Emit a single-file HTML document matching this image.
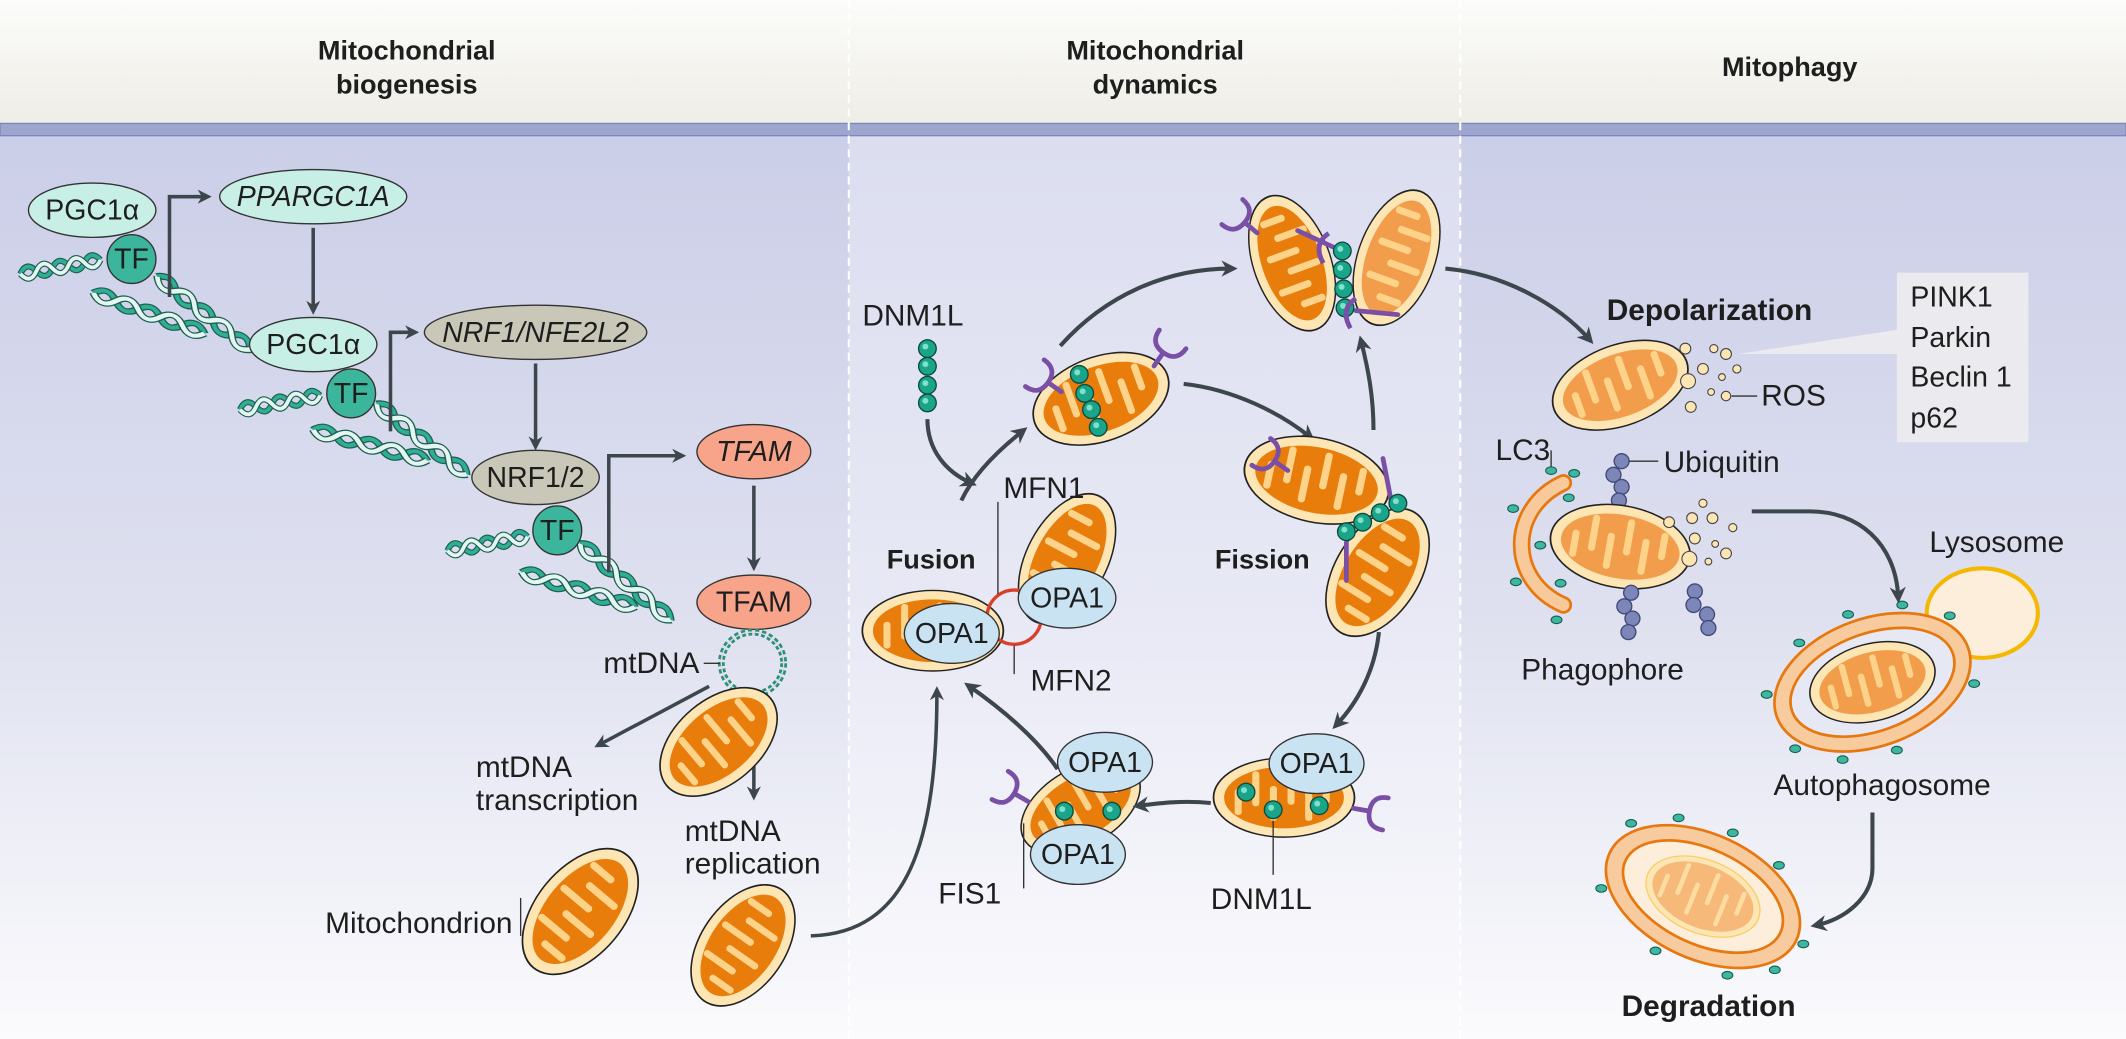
<!DOCTYPE html>
<html><head><meta charset="utf-8"><style>
html,body{margin:0;padding:0;width:2126px;height:1039px;overflow:hidden;background:#fff}
svg{display:block}
text{font-family:"Liberation Sans",sans-serif;fill:#1e1e1e}
</style></head><body>
<svg width="2126" height="1039" viewBox="0 0 1568 766" preserveAspectRatio="none" xmlns="http://www.w3.org/2000/svg">
<defs>
<linearGradient id="hdr" x1="0" y1="0" x2="0" y2="1"><stop offset="0" stop-color="#fcfcfa"/><stop offset="1" stop-color="#eeede6"/></linearGradient>
<linearGradient id="side" x1="0" y1="0" x2="0" y2="1"><stop offset="0" stop-color="#c5c9e5"/><stop offset="0.6" stop-color="#dfe1f0"/><stop offset="1" stop-color="#fbfbfd"/></linearGradient>
<linearGradient id="mid" x1="0" y1="0" x2="0" y2="1"><stop offset="0" stop-color="#d8dbef"/><stop offset="0.6" stop-color="#e8e9f5"/><stop offset="1" stop-color="#fbfbfd"/></linearGradient>
<marker id="ah" viewBox="0 0 10 10" refX="6" refY="5" markerWidth="4" markerHeight="4" orient="auto"><path d="M0,0 L10,5 L0,10 L3,5z" fill="#3d464c"/></marker>
<g id="mito">
<ellipse rx="40" ry="27" fill="#fde6b4" stroke="#222" stroke-width="1"/>
<ellipse rx="34" ry="21" fill="#e97d0c"/>
<path d="M-26,10 v-14 M-16,-16 v20 M-6,14 v-20 M4,-17 v20 M14,14 v-20 M24,-12 v14" stroke="#fdd38a" stroke-width="4" stroke-linecap="round" fill="none"/>
</g>
<g id="mitoL">
<ellipse rx="40" ry="27" fill="#fde6b4" stroke="#222" stroke-width="1"/>
<ellipse rx="34" ry="21" fill="#f29d4c"/>
<path d="M-26,10 v-14 M-16,-16 v20 M-6,14 v-20 M4,-17 v20 M14,14 v-20 M24,-12 v14" stroke="#fdd38a" stroke-width="4" stroke-linecap="round" fill="none"/>
</g>
<g id="bead"><circle r="6.5" fill="#1aa58a" stroke="#0c4a40" stroke-width="1"/><circle cx="-1.5" cy="-1.5" r="2.2" fill="#7fe0cc"/></g>
<g id="ub"><circle r="5.5" fill="#7d86b8" stroke="#404a78" stroke-width="1"/></g>
<g id="lc3"><ellipse rx="4" ry="2.8" fill="#3cb8a0" stroke="#1a5a50" stroke-width="0.8"/></g>
<g id="ypur"><path d="M0,0 v12 M0,0 q-12,0 -12,-12 M0,0 q12,0 12,-12" stroke="#7a4fa6" stroke-width="3.5" fill="none" stroke-linecap="round"/></g>
<g id="helix" fill="none">
<path d="M0,0 q6,-9 12,0 t12,0 t12,0 t12,0 t12,0" stroke="#1d5f52" stroke-width="4.5"/>
<path d="M0,0 q6,-9 12,0 t12,0 t12,0 t12,0 t12,0" stroke="#2fae94" stroke-width="2.8"/>
<path d="M0,0 q6,9 12,0 t12,0 t12,0 t12,0 t12,0" stroke="#1d5f52" stroke-width="4.5"/>
<path d="M0,0 q6,9 12,0 t12,0 t12,0 t12,0 t12,0" stroke="#e4f6f0" stroke-width="2.8"/>
</g>
</defs>

<rect x="0" y="0" width="1568" height="766" fill="url(#side)"/>
<rect x="626" y="0" width="451" height="766" fill="url(#mid)"/>
<rect x="0" y="0" width="1568" height="91" fill="url(#hdr)"/>
<rect x="0" y="91" width="1568" height="9" fill="#9ea6cf" stroke="#7c87bd" stroke-width="1"/>
<line x1="626" y1="0" x2="626" y2="766" stroke="#fff" stroke-width="1.5" stroke-dasharray="6,4"/>
<line x1="1077" y1="0" x2="1077" y2="766" stroke="#fff" stroke-width="1.5" stroke-dasharray="6,4"/>

<g font-size="20" font-weight="bold" text-anchor="middle">
<text x="300" y="44" fill="#333">Mitochondrial</text><text x="300" y="69" fill="#333">biogenesis</text>
<text x="852" y="44" fill="#333">Mitochondrial</text><text x="852" y="69" fill="#333">dynamics</text>
<text x="1320" y="56" fill="#333">Mitophagy</text>
</g>

<!-- DNA -->
<use href="#helix" transform="translate(15,202) rotate(-10)"/>
<use href="#helix" transform="translate(69,216) rotate(20) scale(1.45,1)"/>
<use href="#helix" transform="translate(116,204) rotate(38) scale(1.45,1)"/>
<use href="#helix" transform="translate(177,302) rotate(-10)"/>
<use href="#helix" transform="translate(231,317) rotate(15) scale(1.45,1)"/>
<use href="#helix" transform="translate(278,298) rotate(38) scale(1.4,1)"/>
<use href="#helix" transform="translate(330,406) rotate(-10)"/>
<use href="#helix" transform="translate(385,422) rotate(17) scale(1.45,1)"/>
<use href="#helix" transform="translate(428,401) rotate(40) scale(1.45,1)"/>

<g stroke="#333" stroke-width="1">
<ellipse cx="68" cy="155" rx="47" ry="20" fill="#c8efe5"/>
<circle cx="97" cy="191" r="18" fill="#3bb59c"/>
<ellipse cx="231" cy="145" rx="69" ry="20" fill="#c8efe5"/>
<ellipse cx="231" cy="254" rx="47" ry="20" fill="#c8efe5"/>
<circle cx="259" cy="290" r="18" fill="#3bb59c"/>
<ellipse cx="395" cy="245" rx="82" ry="20" fill="#c9c7b8"/>
<ellipse cx="395" cy="352" rx="47" ry="20" fill="#c9c7b8"/>
<circle cx="411" cy="391" r="18" fill="#3bb59c"/>
<ellipse cx="556" cy="333" rx="42" ry="20" fill="#f7a48a"/>
<ellipse cx="556" cy="444" rx="42" ry="20" fill="#f7a48a"/>
</g>
<g font-size="21" text-anchor="middle">
<text x="68" y="162">PGC1α</text><text x="97" y="198">TF</text>
<text x="231" y="152" font-style="italic">PPARGC1A</text>
<text x="231" y="261">PGC1α</text><text x="259" y="297">TF</text>
<text x="395" y="252" font-style="italic">NRF1/NFE2L2</text>
<text x="395" y="359">NRF1/2</text><text x="411" y="398">TF</text>
<text x="556" y="340" font-style="italic">TFAM</text>
<text x="556" y="451">TFAM</text>
</g>
<g stroke="#3d464c" stroke-width="2.6" fill="none" marker-end="url(#ah)">
<path d="M125,219 V145 H152"/>
<path d="M231,168 V228"/>
<path d="M288,318 V245 H305"/>
<path d="M395,268 V328"/>
<path d="M449,422 V336 H502"/>
<path d="M556,358 V417"/>
<path d="M523,506 L442,549"/>
<path d="M556,526 V586"/>
<path d="M598,690 C670,688 691,620 691,510"/>
</g>
<circle cx="555" cy="489" r="23" fill="none" stroke="#2a8f7c" stroke-width="5" stroke-dasharray="3,2"/>
<circle cx="555" cy="489" r="23" fill="none" stroke="#ddd" stroke-width="1"/>
<line x1="519" y1="489" x2="531" y2="489" stroke="#333"/>
<g font-size="22">
<text x="445" y="496">mtDNA</text>
<text x="351" y="573">mtDNA</text><text x="351" y="597">transcription</text>
<text x="505" y="620">mtDNA</text><text x="505" y="644">replication</text>
<text x="378" y="688" text-anchor="end">Mitochondrion</text>
</g>
<use href="#mito" transform="translate(530,547) rotate(-40) scale(1.25,1.15)"/>
<use href="#mito" transform="translate(428,672) rotate(-50) scale(1.35,1.2)"/>
<line x1="384" y1="690" x2="384" y2="662" stroke="#333"/>
<use href="#mito" transform="translate(548,697) rotate(-55) scale(1.25,1.15)"/>

<!-- dynamics arrows -->
<g stroke="#3d464c" stroke-width="3" fill="none" marker-end="url(#ah)">
<path d="M684,309 C684,332 698,348 716,356"/>
<path d="M709,369 C718,350 735,333 754,318"/>
<path d="M782,255 C815,218 860,198 908,198"/>
<path d="M873,283 C910,287 945,305 966,322"/>
<path d="M1013,317 C1013,292 1009,272 1004,252"/>
<path d="M1017,466 C1014,495 1001,518 986,534"/>
<path d="M780,567 C765,545 742,525 715,506"/>
<path d="M1066,198 C1110,202 1150,225 1172,250"/>
<path d="M1292,377 H1335 C1370,377 1398,400 1400,440"/>
<path d="M1381,599 V640 C1381,662 1360,678 1340,682"/>
</g>
<text x="636" y="240" font-size="22">DNM1L</text>
<use href="#bead" x="684" y="257"/><use href="#bead" x="684" y="270"/><use href="#bead" x="684" y="284"/><use href="#bead" x="684" y="297"/>

<!-- fusion -->
<use href="#mito" transform="translate(787,412) rotate(-62) scale(1.3,1.1)"/>
<use href="#mito" transform="translate(688,465) scale(1.3,1.1)"/>
<circle cx="748" cy="455" r="20" fill="none" stroke="#d8402a" stroke-width="2.5"/>
<g stroke="#333" stroke-width="1" fill="#c9e3f3">
<ellipse cx="787" cy="441" rx="36" ry="22"/>
<ellipse cx="702" cy="467" rx="35" ry="22"/>
</g>
<g font-size="21" text-anchor="middle">
<text x="787" y="448">OPA1</text>
<text x="702" y="474">OPA1</text>
</g>
<g font-size="22">
<text x="740" y="367">MFN1</text><text x="760" y="509">MFN2</text>
<text x="893" y="670">DNM1L</text>
<text x="692" y="666">FIS1</text>
</g>
<text x="654" y="419" font-weight="bold" font-size="20">Fusion</text>
<text x="896" y="419" font-weight="bold" font-size="20">Fission</text>
<line x1="736" y1="370" x2="736" y2="438" stroke="#333"/>
<line x1="748" y1="476" x2="748" y2="497" stroke="#333"/>

<use href="#mito" transform="translate(812,294) rotate(-20) scale(1.3,1.15)"/>
<use href="#ypur" transform="translate(773,282) rotate(-55)"/>
<use href="#ypur" transform="translate(858,260) rotate(35)"/>
<use href="#bead" x="796" y="276"/><use href="#bead" x="800" y="290"/><use href="#bead" x="805" y="302"/><use href="#bead" x="810" y="315"/>

<use href="#mito" transform="translate(953,194) rotate(70) scale(1.3,1.05)"/>
<use href="#mitoL" transform="translate(1030,190) rotate(110) scale(1.3,1.05)"/>
<use href="#ypur" transform="translate(918,164) rotate(-50)"/>
<path d="M957,170 L983,182 M1000,229 L1031,232" stroke="#7a4fa6" stroke-width="3.5" stroke-linecap="round"/>
<use href="#bead" x="990" y="185"/><use href="#bead" x="990" y="199"/><use href="#bead" x="991" y="213"/><use href="#bead" x="992" y="227"/>
<path d="M980,172 q-12,8 -4,22 M1000,220 q-12,8 -4,22" stroke="#7a4fa6" stroke-width="3.5" fill="none"/>

<use href="#mito" transform="translate(971,354) rotate(12) scale(1.35,1.15)"/>
<use href="#mito" transform="translate(1016,422) rotate(-58) scale(1.3,1.15)"/>
<use href="#ypur" transform="translate(940,340) rotate(-55)"/>
<path d="M1020,338 L1026,369 M993,400 L993,428" stroke="#7a4fa6" stroke-width="3.5" stroke-linecap="round"/>
<use href="#bead" x="993" y="392"/><use href="#bead" x="1005" y="385"/><use href="#bead" x="1018" y="378"/><use href="#bead" x="1031" y="371"/>

<use href="#mito" transform="translate(947,588) scale(1.3,1.08)"/>
<use href="#ypur" transform="translate(1010,598) rotate(100)"/>
<ellipse cx="971" cy="563" rx="35" ry="22" fill="#c9e3f3" stroke="#333"/>
<text x="971" y="570" font-size="21" text-anchor="middle">OPA1</text>
<use href="#bead" x="919" y="584"/><use href="#bead" x="939" y="597"/><use href="#bead" x="973" y="594"/>
<line x1="939" y1="605" x2="939" y2="645" stroke="#333"/>

<use href="#mito" transform="translate(797,595) rotate(-30) scale(1.2,1.05)"/>
<use href="#ypur" transform="translate(748,585) rotate(-60)"/>
<use href="#bead" x="785" y="598"/><use href="#bead" x="820" y="598"/>
<g stroke="#333" fill="#c9e3f3"><ellipse cx="815" cy="562" rx="35" ry="22"/><ellipse cx="795" cy="630" rx="35" ry="22"/></g>
<text x="815" y="569" font-size="21" text-anchor="middle">OPA1</text>
<text x="795" y="637" font-size="21" text-anchor="middle">OPA1</text>
<line x1="755" y1="655" x2="755" y2="607" stroke="#333"/>
<path d="M893,592 C872,590 856,592 840,594" stroke="#3d464c" stroke-width="3" fill="none" marker-end="url(#ah)"/>

<!-- mitophagy -->
<text x="1185" y="236" font-size="22" font-weight="bold">Depolarization</text>
<use href="#mitoL" transform="translate(1195,284) rotate(-20) scale(1.3,1.1)"/>
<g fill="#fde6b4" stroke="#444" stroke-width="0.8">
<circle cx="1243" cy="257" r="4"/><circle cx="1264" cy="257" r="3"/><circle cx="1273" cy="261" r="4"/>
<circle cx="1256" cy="272" r="4"/><circle cx="1281" cy="272" r="3"/><circle cx="1245" cy="281" r="5.5"/>
<circle cx="1270" cy="278" r="2.5"/><circle cx="1262" cy="289" r="2.5"/><circle cx="1273" cy="292" r="3.5"/><circle cx="1247" cy="300" r="4"/>
</g>
<line x1="1277" y1="292" x2="1296" y2="292" stroke="#333"/>
<text x="1299" y="299" font-size="22">ROS</text>
<polygon points="1282,261 1400,243 1400,261" fill="#ebebef"/>
<rect x="1399" y="201" width="97" height="125" fill="#ebebef"/>
<g font-size="21"><text x="1409" y="226">PINK1</text><text x="1409" y="256">Parkin</text><text x="1409" y="285">Beclin 1</text><text x="1409" y="315">p62</text></g>

<text x="1103" y="339" font-size="22">LC3</text>
<line x1="1144" y1="332" x2="1144" y2="344" stroke="#333"/>
<text x="1227" y="348" font-size="22">Ubiquitin</text>
<line x1="1201" y1="340" x2="1223" y2="340" stroke="#333"/>
<path d="M1153,356 C1112,375 1112,428 1153,446" fill="none" stroke="#e6780f" stroke-width="13" stroke-linecap="round"/>
<path d="M1153,356 C1112,375 1112,428 1153,446" fill="none" stroke="#f8c99a" stroke-width="9" stroke-linecap="round"/>
<use href="#lc3" x="1144" y="347"/><use href="#lc3" x="1161" y="349"/><use href="#lc3" x="1157" y="367"/><use href="#lc3" x="1116" y="375"/><use href="#lc3" x="1136" y="402"/><use href="#lc3" x="1118" y="429"/><use href="#lc3" x="1151" y="430"/><use href="#lc3" x="1148" y="457"/>
<use href="#ub" x="1196" y="340"/><use href="#ub" x="1190" y="350"/><use href="#ub" x="1196" y="359"/><use href="#ub" x="1194" y="369"/>
<use href="#mitoL" transform="translate(1195,403) rotate(10) scale(1.3,1.12)"/>
<use href="#ub" x="1203" y="437"/><use href="#ub" x="1198" y="447"/><use href="#ub" x="1204" y="456"/><use href="#ub" x="1201" y="466"/>
<use href="#ub" x="1250" y="436"/><use href="#ub" x="1249" y="446"/><use href="#ub" x="1259" y="453"/><use href="#ub" x="1260" y="463"/>
<g fill="#fde6b4" stroke="#444" stroke-width="0.8">
<circle cx="1231" cy="385" r="4"/><circle cx="1248" cy="382" r="4"/><circle cx="1263" cy="382" r="4"/><circle cx="1256" cy="371" r="3"/>
<circle cx="1278" cy="389" r="3"/><circle cx="1250" cy="397" r="4"/><circle cx="1265" cy="401" r="2.5"/><circle cx="1273" cy="408" r="4"/><circle cx="1246" cy="412" r="5.5"/><circle cx="1260" cy="414" r="2.5"/>
</g>
<text x="1122" y="501" font-size="22">Phagophore</text>

<text x="1423" y="407" font-size="22">Lysosome</text>
<ellipse cx="1462" cy="452" rx="41" ry="33" fill="#fdeedc" stroke="#f4b800" stroke-width="3"/>
<ellipse cx="1381" cy="503" rx="75" ry="47" transform="rotate(-20 1381 503)" fill="#f8cb9e" stroke="#e6780f" stroke-width="2"/>
<ellipse cx="1381" cy="503" rx="63" ry="36" transform="rotate(-20 1381 503)" fill="#e6e8f4" stroke="#e6780f" stroke-width="2"/>
<use href="#mitoL" transform="translate(1381,503) rotate(-15) scale(1.18,1.05)"/>
<use href="#lc3" x="1363" y="453"/><use href="#lc3" x="1403" y="446"/><use href="#lc3" x="1438" y="454"/><use href="#lc3" x="1456" y="504"/>
<use href="#lc3" x="1399" y="553"/><use href="#lc3" x="1359" y="560"/><use href="#lc3" x="1324" y="552"/><use href="#lc3" x="1303" y="512"/><use href="#lc3" x="1327" y="474"/>
<text x="1308" y="586" font-size="22">Autophagosome</text>

<ellipse cx="1256" cy="661" rx="76" ry="46" transform="rotate(25 1256 661)" fill="#f8cb9e" stroke="#e6780f" stroke-width="2"/>
<ellipse cx="1256" cy="661" rx="63" ry="35" transform="rotate(25 1256 661)" fill="#fdeedc" stroke="#e6780f" stroke-width="2"/>
<ellipse cx="1256" cy="661" rx="44" ry="27" transform="rotate(22 1256 661)" fill="#fde6b4" stroke="#f6cf6a"/>
<g transform="translate(1256,661) rotate(22) scale(1.15,1.1)"><ellipse rx="34" ry="21" fill="#f6b97a"/><path d="M-26,10 v-14 M-16,-16 v20 M-6,14 v-20 M4,-17 v20 M14,14 v-20 M24,-12 v14" stroke="#fddca0" stroke-width="3" stroke-linecap="round" fill="none"/></g>
<use href="#lc3" x="1278" y="614"/><use href="#lc3" x="1238" y="603"/><use href="#lc3" x="1203" y="607"/><use href="#lc3" x="1312" y="638"/><use href="#lc3" x="1330" y="696"/>
<use href="#lc3" x="1274" y="719"/><use href="#lc3" x="1221" y="701"/><use href="#lc3" x="1181" y="655"/><use href="#lc3" x="1309" y="715"/>
<text x="1196" y="749" font-size="22" font-weight="bold">Degradation</text>
</svg>
</body></html>
